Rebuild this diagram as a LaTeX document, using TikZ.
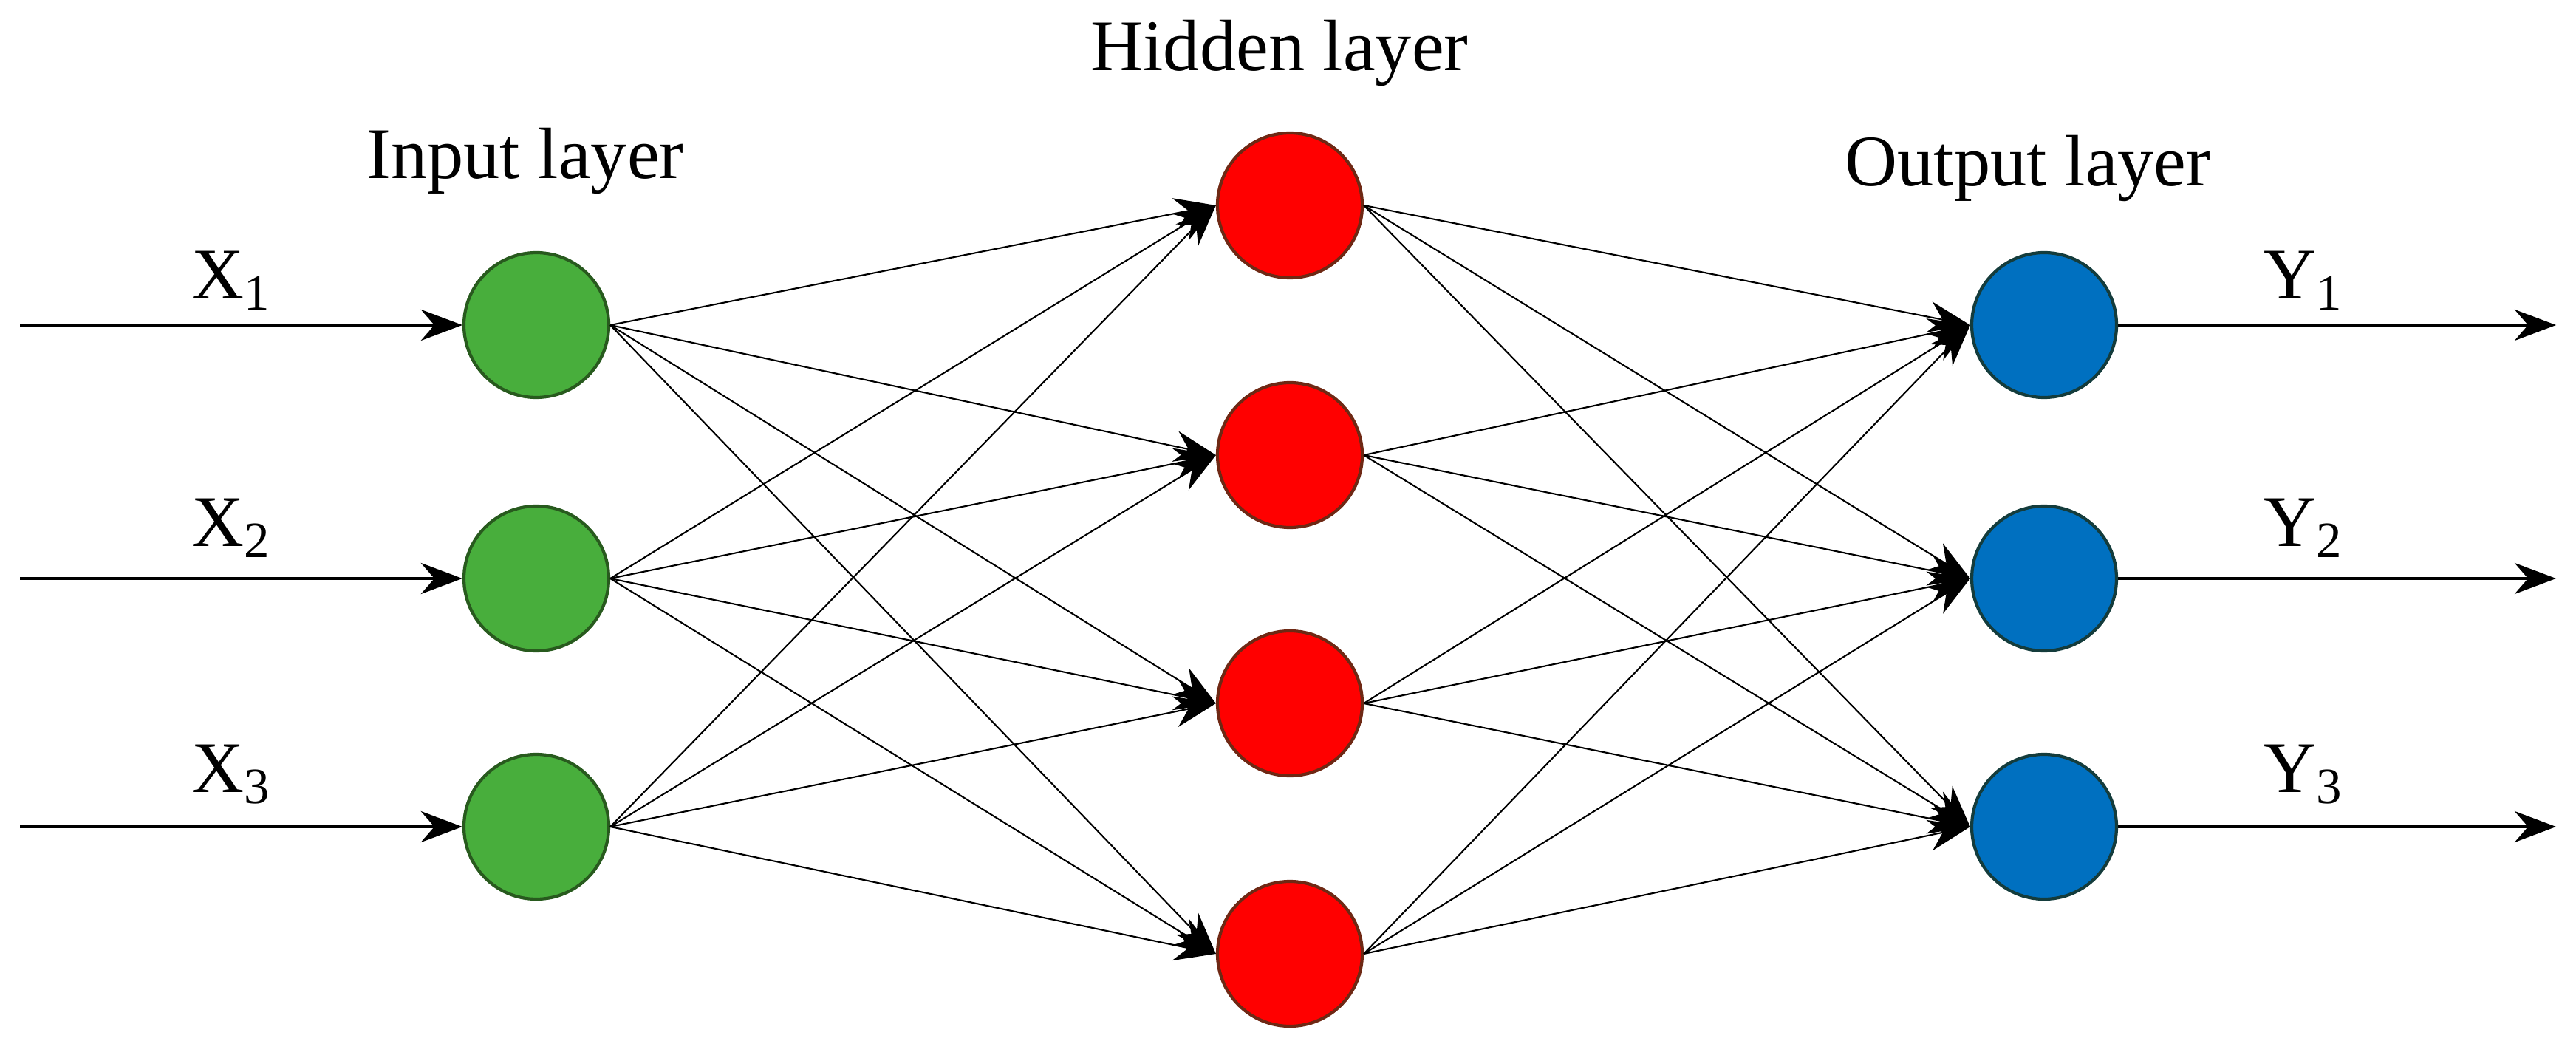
\documentclass[tikz,border=0pt]{standalone}
\usepackage{fontspec}
\setmainfont{Liberation Serif}
\usetikzlibrary{arrows.meta}
\definecolor{ing}{RGB}{72,174,60}
\definecolor{ingd}{RGB}{40,90,30}
\definecolor{hid}{RGB}{255,0,0}
\definecolor{hidd}{RGB}{110,40,20}
\definecolor{outc}{RGB}{0,112,192}
\definecolor{outd}{RGB}{20,60,60}
\begin{document}
\begin{tikzpicture}[x=1cm,y=1cm,
  neuron/.style={circle,minimum size=1.96cm,inner sep=0pt,line width=1.2pt},
  inn/.style={neuron,fill=ing,draw=ingd},
  hidn/.style={neuron,fill=hid,draw=hidd},
  outn/.style={neuron,fill=outc,draw=outd},
  conn/.style={line width=0.6pt,-{Stealth[length=16pt,width=12pt]}},
  io/.style={line width=0.9pt,-{Stealth[length=16pt,width=12pt]}},
  lab/.style={font=\fontsize{28}{32}\selectfont}]
\useasboundingbox (0,0) rectangle (34.87,14.08);
\foreach \i/\y in {1/9.68,2/6.25,3/2.89}{
  \node[inn] (i\i) at (7.26,\y) {};
  \node[outn] (o\i) at (27.67,\y) {};
  \coordinate (s\i) at (0.27,\y);
  \coordinate (e\i) at (34.60,\y);
}
\foreach \j/\y in {1/11.30,2/7.92,3/4.56,4/1.17}{
  \node[hidn] (h\j) at (17.46,\y) {};
}
\foreach \i in {1,2,3}{
  \foreach \j in {1,2,3,4}{
    \draw[conn] (i\i.east) -- (h\j.west);
    \draw[conn] (h\j.east) -- (o\i.west);
  }
  \draw[io] (s\i) -- (i\i.west);
  \draw[io] (o\i.east) -- (e\i);
}
\node[lab] (x1) at (3.13,10.28) {X\textsubscript{1}};
\node[lab] (x2) at (3.13,6.93) {X\textsubscript{2}};
\node[lab] (x3) at (3.13,3.60) {X\textsubscript{3}};
\node[lab] (y1) at (31.18,10.28) {Y\textsubscript{1}};
\node[lab] (y2) at (31.18,6.93) {Y\textsubscript{2}};
\node[lab] (y3) at (31.18,3.60) {Y\textsubscript{3}};
\node[lab] (tin) at (7.11,11.90) {Input layer};
\node[lab] (thid) at (17.32,13.36) {Hidden layer};
\node[lab] (tout) at (27.45,11.80) {Output layer};
\end{tikzpicture}
\end{document}
